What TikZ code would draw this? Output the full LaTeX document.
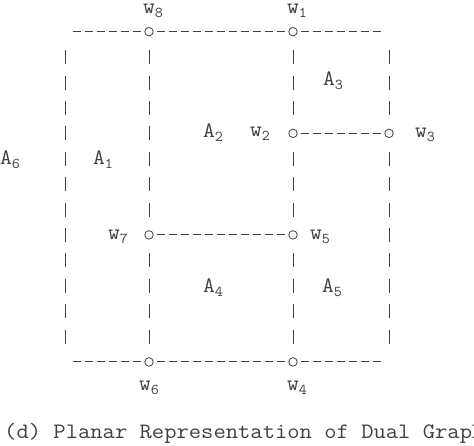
\documentclass[tikz,border=0pt]{standalone}
\usepackage{graphicx}
\definecolor{ink}{gray}{0.25}
\newcommand\mono[1]{\scalebox{1.04}[1]{\ttfamily\fontsize{22}{22}\selectfont #1}}
\newcommand\wl[2]{\mono{#1\raisebox{-4pt}{\fontsize{15}{15}\selectfont #2}}}
\begin{document}
\begin{tikzpicture}[x=1pt,y=-1pt,
  vtx/.style={circle, draw=ink, line width=0.8pt, inner sep=0pt, outer sep=0pt, minimum size=8.5pt},
  hdash/.style={draw=ink, line width=0.9pt, dash pattern=on 8pt off 4pt},
  hseg/.style={hdash, shorten <=3.75pt, shorten >=3.75pt},
  vdash/.style={draw=ink, line width=0.9pt, dash pattern=on 14pt off 11.4pt},
  vseg/.style={vdash, shorten <=14.15pt, shorten >=14.15pt},
  lbl/.style={anchor=base west, inner sep=0pt, text=ink}]
\useasboundingbox (0,0) rectangle (474,445);
\clip (0,0) rectangle (474,445);
% vertices
\node[vtx] (w8) at (149,31.7) {};
\node[vtx] (w1) at (293,31.7) {};
\node[vtx] (w2) at (293,133.3) {};
\node[vtx] (w3) at (389,133.3) {};
\node[vtx] (w7) at (149,234.9) {};
\node[vtx] (w5) at (293,234.9) {};
\node[vtx] (w6) at (149,361.9) {};
\node[vtx] (w4) at (293,361.9) {};
% free ends
\coordinate (tl) at (73,31.7);
\coordinate (tr) at (381,31.7);
\coordinate (bl) at (73,361.9);
\coordinate (br) at (381,361.9);
\coordinate (lt) at (65,50.1);
\coordinate (lb) at (65,343.5);
\coordinate (rt) at (389,50.1);
\coordinate (rb) at (389,343.5);
% horizontal connectors
\draw[hdash, shorten >=3.75pt] (tl) -- (w8);
\draw[hseg] (w8) -- (w1);
\draw[hdash, shorten <=3.75pt] (w1) -- (tr);
\draw[hseg] (w2) -- (w3);
\draw[hseg] (w7) -- (w5);
\draw[hdash, shorten >=3.75pt] (bl) -- (w6);
\draw[hseg] (w6) -- (w4);
\draw[hdash, shorten <=3.75pt] (w4) -- (br);
% vertical connectors
\draw[vdash] (lt) -- (lb);
\draw[vseg] (w8) -- (w7);
\draw[vseg] (w7) -- (w6);
\draw[vseg] (w1) -- (w2);
\draw[vseg] (w2) -- (w5);
\draw[vseg] (w5) -- (w4);
\draw[vdash, shorten >=14.15pt] (rt) -- (w3);
\draw[vdash, shorten <=14.15pt] (w3) -- (rb);
% vertex labels
\node[lbl] (lw8) at (143,13) {\wl{w}{8}};
\node[lbl] (lw1) at (287,13) {\wl{w}{1}};
\node[lbl] (lw2) at (250,136) {\wl{w}{2}};
\node[lbl] (lw3) at (415,137) {\wl{w}{3}};
\node[lbl] (lw7) at (108,239) {\wl{w}{7}};
\node[lbl] (lw5) at (310,239) {\wl{w}{5}};
\node[lbl] (lw6) at (139,390) {\wl{w}{6}};
\node[lbl] (lw4) at (287,390) {\wl{w}{4}};
% face labels
\node[lbl] (a6) at (0,164) {\wl{A}{6}};
\node[lbl] (a1) at (93,164) {\wl{A}{1}};
\node[lbl] (a2) at (203,137) {\wl{A}{2}};
\node[lbl] (a3) at (323,85) {\wl{A}{3}};
\node[lbl] (a4) at (203,292) {\wl{A}{4}};
\node[lbl] (a5) at (322,292) {\wl{A}{5}};
% caption
\node[lbl] (cap) at (4,438) {\scalebox{1.045}[1]{\mono{(d) Planar Representation of Dual Graph}}};
\end{tikzpicture}
\end{document}
